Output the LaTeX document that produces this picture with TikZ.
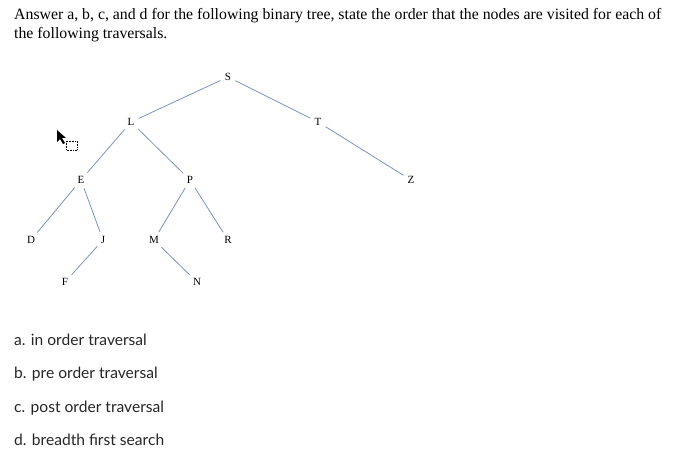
\documentclass[tikz,border=0pt]{standalone}
\usepackage{fontspec}
\setmainfont{Liberation Serif}
\newfontfamily\listfont{Lato}
\begin{document}
\begin{tikzpicture}[x=1pt,y=-1pt,
  tn/.style={font=\fontsize{11}{13}\selectfont, inner sep=1pt},
  ed/.style={draw={rgb,255:red,125;green,145;blue,195}, line width=0.8pt, shorten >=3.5pt, shorten <=3.5pt},
  li/.style={font=\listfont\fontsize{15.6}{18}\selectfont, anchor=base west, inner sep=0pt, text=black!85}]
\useasboundingbox (0,0) rectangle (692,457);
\node[anchor=base west, inner sep=0pt, font=\fontsize{15.8}{18}\selectfont] (h1) at (14,20) {Answer a, b, c, and d for the following binary tree, state the order that the nodes are visited for each of};
\node[anchor=base west, inner sep=0pt, font=\fontsize{15.8}{18}\selectfont] (h2) at (14,39) {the following traversals.};
\node[tn] (S) at (228,77) {S};
\node[tn] (L) at (131,122) {L};
\node[tn] (T) at (318,122) {T};
\node[tn] (E) at (81,180) {E};
\node[tn] (P) at (190,180) {P};
\node[tn] (Z) at (411,180) {Z};
\node[tn] (D) at (31,240) {D};
\node[tn] (J) at (103,240) {J};
\node[tn] (M) at (154,240) {M};
\node[tn] (R) at (228,240) {R};
\node[tn] (F) at (65,282) {F};
\node[tn] (N) at (197,282) {N};
\foreach \a/\b in {S/L,S/T,L/E,L/P,T/Z,E/D,E/J,J/F,P/M,P/R,M/N}
  \draw[ed] (\a) -- (\b);
% cursor artifact
\fill (57,130) -- (57,142) -- (60,139) -- (63,144) -- (65,143) -- (62,138) -- (66,138) -- cycle;
\draw[densely dotted, line width=0.6pt] (66,141) rectangle (77,150);
\node[li] (a) at (14,345) {a. in order traversal};
\node[li] (b) at (14,378) {b. pre order traversal};
\node[li] (c) at (14,412) {c. post order traversal};
\node[li] (d) at (14,445) {d. breadth first search};
\end{tikzpicture}
\end{document}
